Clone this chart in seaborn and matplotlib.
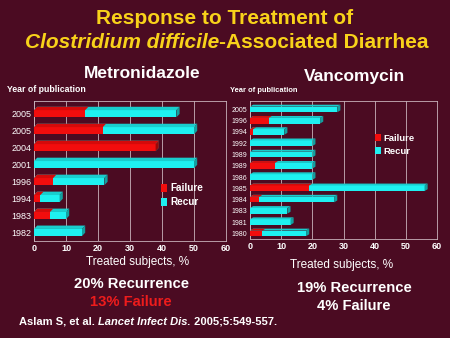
import matplotlib
matplotlib.use("Agg")
import matplotlib.pyplot as plt
import seaborn as sns
import pandas as pd
import numpy as np
from matplotlib.patches import Polygon

# ---------------- data ----------------
metro_years = ["2005", "2005", "2004", "2001", "1996", "1994", "1983", "1982"]
metro_failure = [16, 21.5, 38, 0, 6, 2, 5, 0]
metro_recur = [28.5, 28.5, 0, 50, 16, 6, 5, 15]

vanco_years = ["2005", "1996", "1994", "1992", "1989", "1989", "1986", "1985",
               "1984", "1983", "1981", "1980"]
vanco_failure = [0, 6, 1, 0, 0, 8, 0, 19, 3, 0, 0, 4]
vanco_recur = [28, 16.5, 10, 20, 20, 12, 20, 37, 24, 12, 13, 14]

x_ticks = [0, 10, 20, 30, 40, 50, 60]

BG = "#4b0b22"
RED = "#f20d0d"
RED_T = "#d40a0a"
RED_D = "#9a0808"
CYAN = "#1ef0f0"
CYAN_T = "#19cdcd"
CYAN_D = "#13a0a0"
YELLOW = "#f8d21a"
GRID = "#c9b3bc"

sns.set_theme(style="white")
plt.rcParams['font.family'] = ['Liberation Sans', 'DejaVu Sans']

fig = plt.figure(figsize=(4.5, 3.38), dpi=100, facecolor=BG)


def draw_panel(rect, years, failure, recur, bar_w, depth_y, tick_fs, legend_pos, leg_fs):
    ax = fig.add_axes(rect)
    ax.set_facecolor(BG)
    ids = [f"s{i}" for i in range(len(years))]
    df = pd.DataFrame({"study": ids,
                       "failure": failure,
                       "total": [f + r for f, r in zip(failure, recur)]})
    sns.barplot(data=df, x="total", y="study", order=ids, orient="h",
                color=CYAN, saturation=1, width=bar_w, ax=ax, label="Recur",
                edgecolor="none", zorder=3)
    n_cyan = len(ax.patches)
    sns.barplot(data=df, x="failure", y="study", order=ids, orient="h",
                color=RED, saturation=1, width=bar_w, ax=ax, label="Failure",
                edgecolor="none", zorder=4)
    dx = 1.0
    for i, p in enumerate(ax.patches):
        x0, w = p.get_x(), p.get_width()
        if w <= 0:
            continue
        y0, h = p.get_y(), p.get_height()
        x1 = x0 + w
        topc = CYAN_T if i < n_cyan else RED_T
        dark = CYAN_D if i < n_cyan else RED_D
        z = 3.5 if i < n_cyan else 4.5
        top = Polygon([(x0, y0), (x1, y0), (x1 + dx, y0 - depth_y), (x0 + dx, y0 - depth_y)],
                      closed=True, facecolor=topc, edgecolor="none", zorder=z)
        ax.add_patch(top)
        if i < n_cyan or df["total"].iloc[i - n_cyan] == df["failure"].iloc[i - n_cyan]:
            end = Polygon([(x1, y0), (x1 + dx, y0 - depth_y), (x1 + dx, y0 + h - depth_y), (x1, y0 + h)],
                          closed=True, facecolor=dark, edgecolor="none", zorder=z)
            ax.add_patch(end)
    ax.set_xlim(0, 60)
    ax.set_ylim(len(years) - 0.5, -0.75)
    ax.set_xticks(x_ticks)
    ax.set_xticklabels([str(t) for t in x_ticks], color="white", fontsize=6.5,
                       fontweight="bold")
    ax.set_yticks(range(len(years)))
    ax.set_yticklabels(years, color="white", fontsize=tick_fs)
    ax.tick_params(axis="both", length=0, pad=2)
    ax.set_xlabel("")
    ax.set_ylabel("")
    ax.grid(axis="x", color=GRID, linewidth=0.6, zorder=0)
    ax.grid(axis="y", visible=False)
    for s in ax.spines.values():
        s.set_color(GRID)
        s.set_linewidth(0.6)
    handles, labels = ax.get_legend_handles_labels()
    order = [labels.index("Failure"), labels.index("Recur")]
    leg = ax.legend([handles[k] for k in order], [labels[k] for k in order],
                    loc="upper left", bbox_to_anchor=legend_pos, frameon=False,
                    fontsize=leg_fs, handlelength=0.6, handleheight=0.8,
                    handletextpad=0.3, labelspacing=0.4, borderaxespad=0)
    for t in leg.get_texts():
        t.set_color("white")
        t.set_fontweight("bold")
    return ax


axL = draw_panel([34 / 450, 97 / 338, 192 / 450, 140 / 338],
                 metro_years, metro_failure, metro_recur, 0.42, 0.2, 6.5, (0.64, 0.44), 7.2)
axR = draw_panel([250 / 450, 99 / 338, 187 / 450, 138 / 338],
                 vanco_years, vanco_failure, vanco_recur, 0.5, 0.17, 5, (0.65, 0.79), 6.8)

renderer = fig.canvas.get_renderer()


def rich_text(xc, y, pieces, **kw):
    """pieces: list of (text, dict of style); centered at xc (figure px)."""
    objs = []
    widths = []
    for txt, st in pieces:
        t = fig.text(0, 0, txt, transform=None, va="center", ha="left", **kw, **st)
        bb = t.get_window_extent(renderer=renderer)
        widths.append(bb.width)
        objs.append(t)
    total = sum(widths)
    x = xc - total / 2
    H = fig.bbox.height
    for t, w in zip(objs, widths):
        t.set_position((x, H - y))
        x += w


def ftext(x, y, s, **kw):
    fig.text(x / 450, 1 - y / 338, s, **kw)


# Title
ftext(225, 18, "Response to Treatment of", color=YELLOW, fontsize=15,
      fontweight="bold", ha="center", va="center")
rich_text(227, 43, [("Clostridium difficile", {"style": "italic"}),
                    ("-Associated Diarrhea", {})],
          color=YELLOW, fontsize=15, fontweight="bold")

ftext(142, 73, "Metronidazole", color="white", fontsize=12.5, fontweight="bold",
      ha="center", va="center")
ftext(355, 77, "Vancomycin", color="white", fontsize=12.5, fontweight="bold",
      ha="center", va="center")

ftext(7, 90, "Year of publication", color="white", fontsize=6.3, fontweight="bold",
      ha="left", va="center")
ftext(230, 91, "Year of publication", color="white", fontsize=5.4, fontweight="bold",
      ha="left", va="center")

ftext(138, 262, "Treated subjects, %", color="white", fontsize=8.5, ha="center", va="center")
ftext(342, 265, "Treated subjects, %", color="white", fontsize=8.5, ha="center", va="center")

ftext(131, 284, "20% Recurrence", color="white", fontsize=10.6, fontweight="bold",
      ha="center", va="center")
ftext(131, 302, "13% Failure", color="#ee1c1c", fontsize=10.6, fontweight="bold",
      ha="center", va="center")
ftext(354, 288, "19% Recurrence", color="white", fontsize=10.6, fontweight="bold",
      ha="center", va="center")
ftext(354, 306, "4% Failure", color="white", fontsize=10.6, fontweight="bold",
      ha="center", va="center")

rich_text(148, 322, [("Aslam S, et al. ", {}),
                     ("Lancet Infect Dis.", {"style": "italic"}),
                     (" 2005;5:549-557.", {})],
          color="white", fontsize=8, fontweight="bold")

fig.savefig("out.png", dpi=100, facecolor=BG)
